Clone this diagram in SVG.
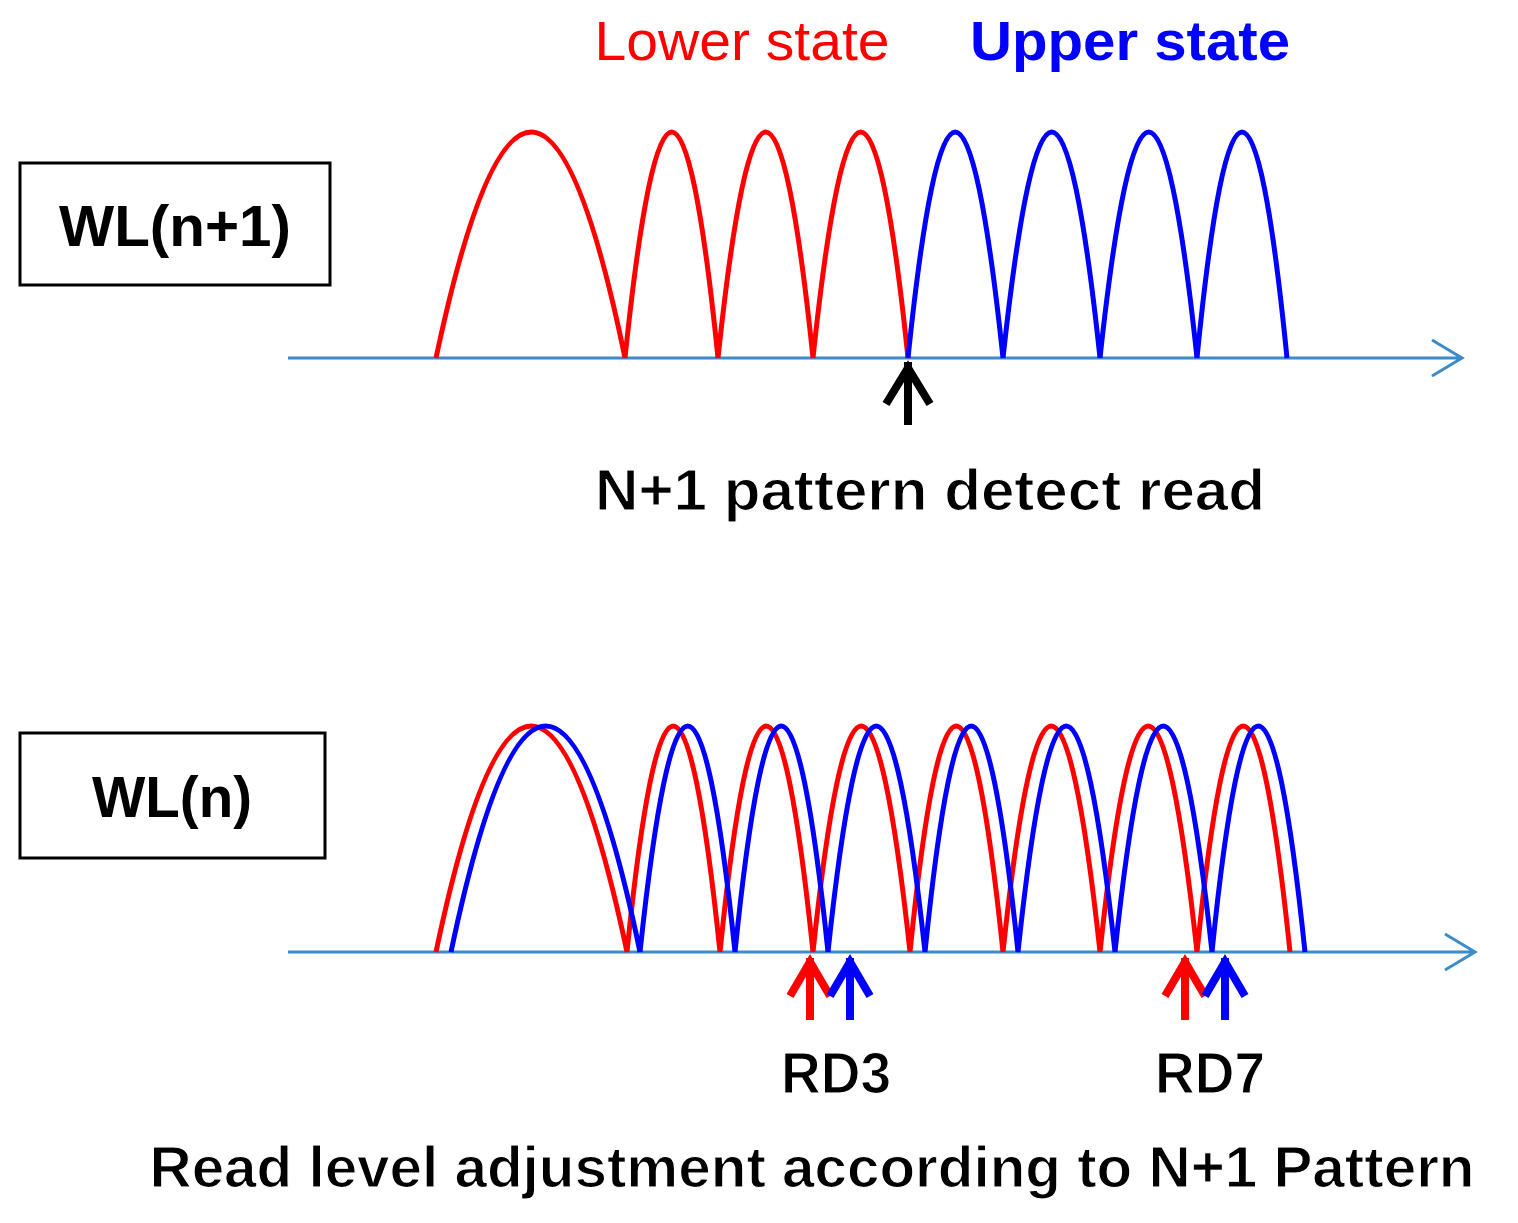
<svg xmlns="http://www.w3.org/2000/svg" width="1518" height="1223" viewBox="0 0 1518 1223">
<style>
.ax{stroke:#3b8cc8;stroke-width:3;fill:none}
.r{stroke:#ff0000;stroke-width:5;fill:none}
.b{stroke:#0000ff;stroke-width:5;fill:none}
.box{fill:#fff;stroke:#000;stroke-width:3}
text{font-family:"Liberation Sans",Arial,sans-serif}
.t{font-size:58px;text-anchor:middle}
.m{font-weight:bold;stroke:#fff;stroke-width:1.2;paint-order:normal}
</style>
<rect width="1518" height="1223" fill="#fff"/>
<text x="742" y="60" font-size="56" fill="#ff0000" text-anchor="middle" textLength="295" lengthAdjust="spacingAndGlyphs">Lower state</text>
<text x="1130" y="60" font-size="56" fill="#0000ff" font-weight="bold" text-anchor="middle" textLength="320" lengthAdjust="spacingAndGlyphs">Upper state</text>
<g id="wl1"><rect class="box" x="20" y="163" width="310" height="122"/><text class="t" x="175" y="246" font-weight="bold" textLength="232" lengthAdjust="spacingAndGlyphs">WL(n+1)</text></g>
<g id="wl0"><rect class="box" x="20" y="733" width="305" height="125"/><text class="t" x="172" y="817" font-weight="bold" textLength="160" lengthAdjust="spacingAndGlyphs">WL(n)</text></g>
<g id="connectors">
<path class="ax" d="M288,358 H1460 M1432,340 L1462,358 L1432,376"/>
<path class="r" d="M436,358 Q532,-94 625,358 M625,358 Q672,-94 718,358 M718,358 Q766,-94 813,358 M813,358 Q861,-94 908,358"/>
<path class="b" d="M908,358 Q955,-94 1003,358 M1003,358 Q1052,-94 1100,358 M1100,358 Q1149,-94 1197,358 M1197,358 Q1242,-94 1287,358"/>
<path d="M908,425 V362 M886,404 L908,368 L930,404" stroke="#000" stroke-width="8" fill="none"/>
<path class="ax" d="M288,952 H1473 M1445,934 L1475,952 L1445,970"/>
<path class="r" d="M436,952 Q531,500 627,952 M627,952 Q673,500 720,952 M720,952 Q766,500 813,952 M813,952 Q861,500 910,952 M910,952 Q956,500 1003,952 M1003,952 Q1051,500 1100,952 M1100,952 Q1148,500 1197,952 M1197,952 Q1243,500 1290,952"/>
<path class="b" d="M451,952 Q546,500 640,952 M640,952 Q688,500 735,952 M735,952 Q781,500 828,952 M828,952 Q876,500 925,952 M925,952 Q971,500 1018,952 M1018,952 Q1066,500 1115,952 M1115,952 Q1163,500 1212,952 M1212,952 Q1258,500 1305,952"/>
<path d="M810,1020 V958 M790,996 L810,962 L830,996 M1185,1020 V958 M1165,996 L1185,962 L1205,996" stroke="#ff0000" stroke-width="8" fill="none"/>
<path d="M850,1020 V958 M830,996 L850,962 L870,996 M1225,1020 V958 M1205,996 L1225,962 L1245,996" stroke="#0000ff" stroke-width="8" fill="none"/>
</g>
<text class="t m" x="930" y="510" textLength="670" lengthAdjust="spacingAndGlyphs">N+1 pattern detect read</text>
<text class="t m" x="836" y="1093" textLength="110" lengthAdjust="spacingAndGlyphs">RD3</text>
<text class="t m" x="1210" y="1093" textLength="110" lengthAdjust="spacingAndGlyphs">RD7</text>
<text class="t m" x="812" y="1187" textLength="1325" lengthAdjust="spacingAndGlyphs">Read level adjustment according to N+1 Pattern</text>
</svg>
